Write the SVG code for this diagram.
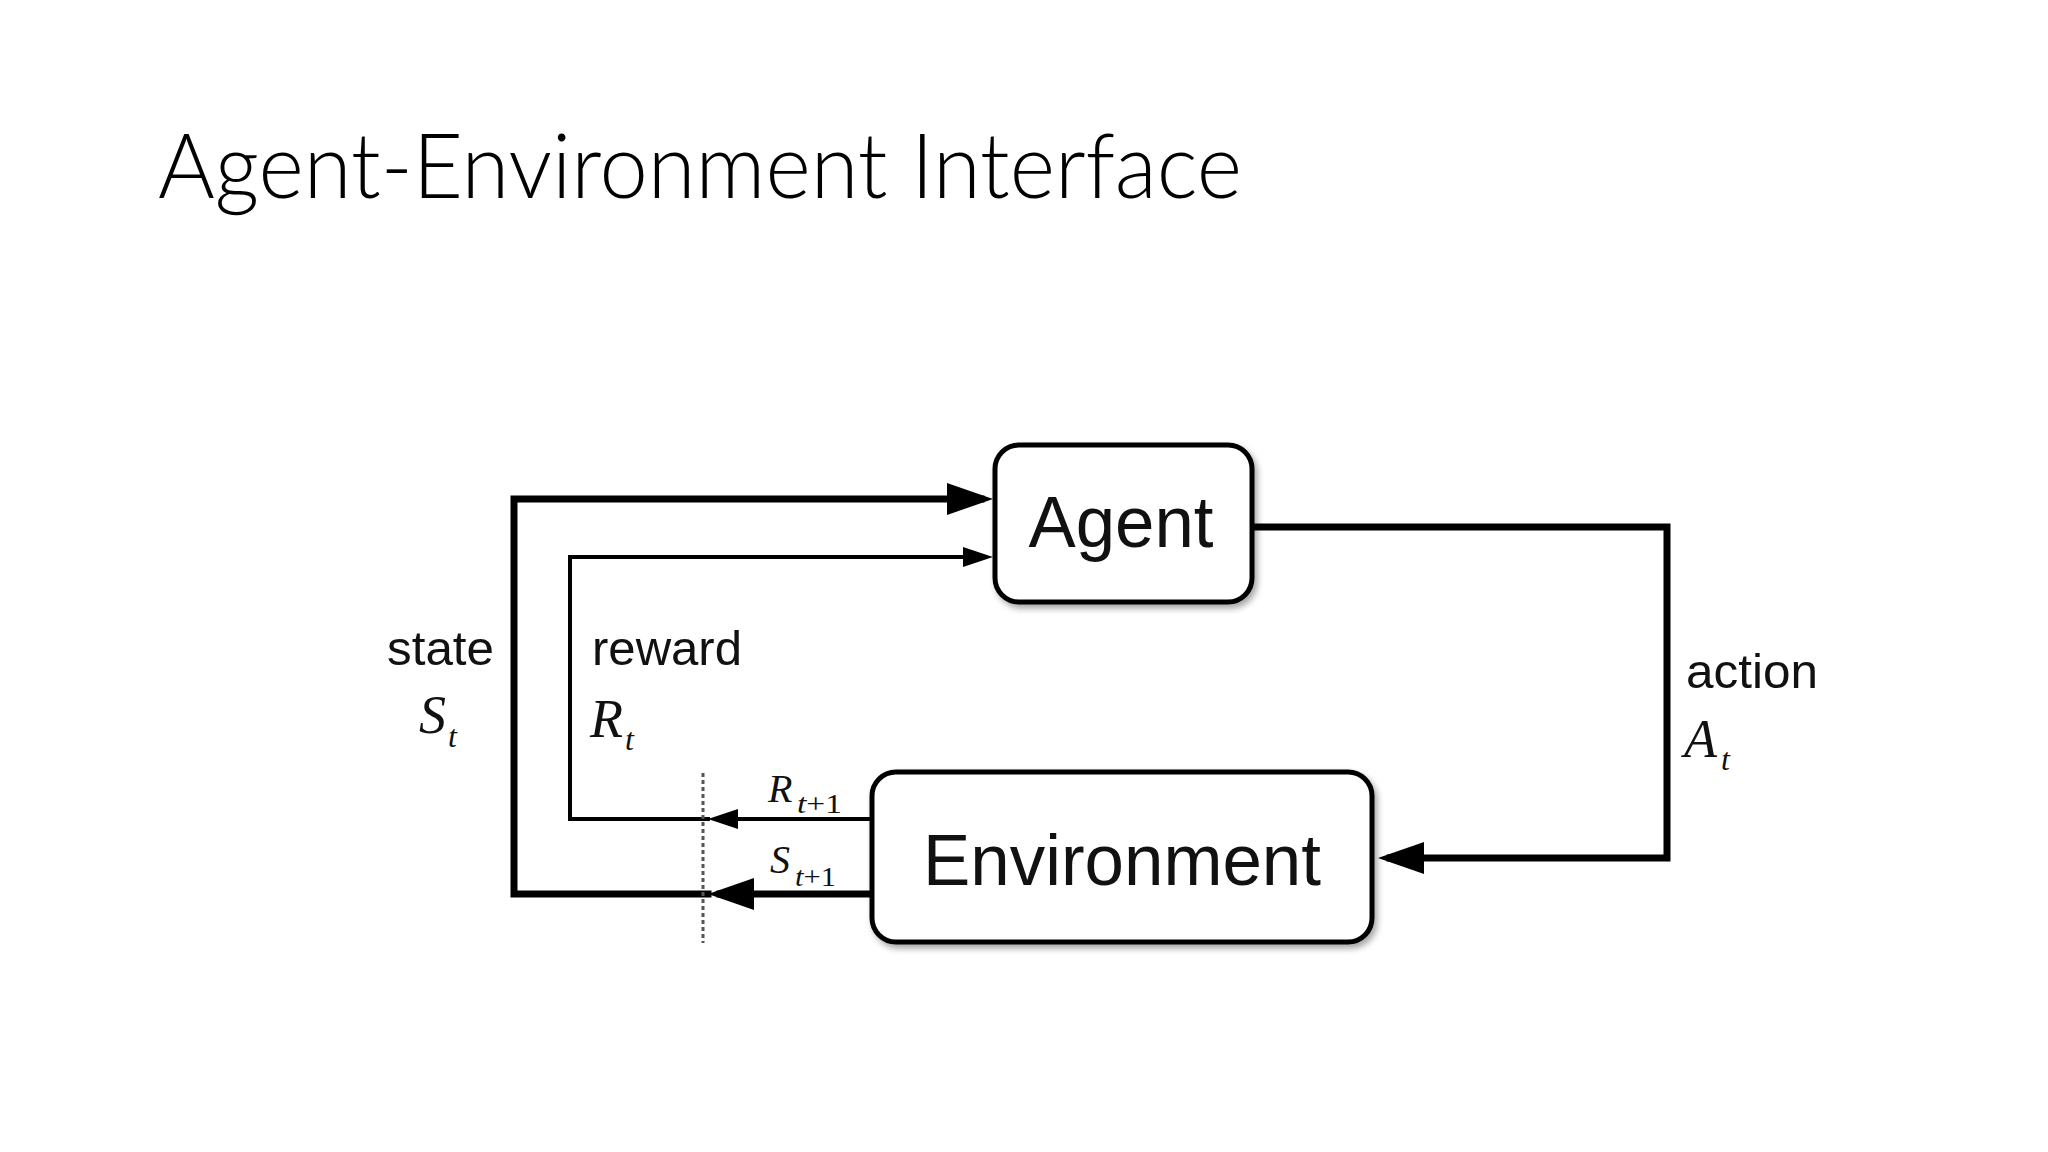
<svg xmlns="http://www.w3.org/2000/svg" width="2048" height="1152" viewBox="0 0 2048 1152">
  <style>
    .title { font-family: Lato, "Open Sans", "Liberation Sans", sans-serif; font-weight: 300; font-size: 90px; fill: #000; }
    .box { fill: #fff; stroke: #000; stroke-width: 5; }
    .boxlabel { font-family: "Liberation Sans", Arial, sans-serif; font-size: 72px; fill: #111; text-anchor: middle; }
    .lbl { font-family: "Liberation Sans", Arial, sans-serif; font-size: 48px; fill: #111; }
    .math { font-family: "Liberation Serif", "Times New Roman", serif; font-style: italic; fill: #111; }
    .up { font-style: normal; }
    .thick { fill: none; stroke: #000; stroke-width: 7; stroke-linejoin: miter; stroke-linecap: square; }
    .thin { fill: none; stroke: #000; stroke-width: 4; stroke-linejoin: miter; stroke-linecap: square; }
    .divider { stroke: #555; stroke-width: 3; stroke-dasharray: 4 3; fill: none; }
  </style>
  <defs>
    <marker id="arrowThick" markerUnits="userSpaceOnUse" markerWidth="46" markerHeight="32" refX="34" refY="16" orient="auto">
      <path d="M0,0 L46,16 L0,32 Z" fill="#000"/>
    </marker>
    <marker id="arrowThin" markerUnits="userSpaceOnUse" markerWidth="30" markerHeight="20" refX="22" refY="10" orient="auto">
      <path d="M0,0 L30,10 L0,20 Z" fill="#000"/>
    </marker>
    <filter id="shadow" x="-10%" y="-10%" width="125%" height="130%">
      <feDropShadow dx="3" dy="4" stdDeviation="3" flood-color="#000" flood-opacity="0.35"/>
    </filter>
  </defs>

  <rect x="0" y="0" width="2048" height="1152" fill="#fff"/>

  <text class="title" x="158" y="198" textLength="1084" lengthAdjust="spacingAndGlyphs">Agent-Environment Interface</text>

  <g id="connectors">
    <!-- state path -->
    <path class="thick" d="M871,894 H720" marker-end="url(#arrowThick)"/>
    <path class="thick" d="M708,894 H514 V499 H981" marker-end="url(#arrowThick)"/>
    <!-- reward path -->
    <path class="thin" d="M871,819 H716" marker-end="url(#arrowThin)"/>
    <path class="thin" d="M708,819 H570 V557 H985" marker-end="url(#arrowThin)"/>
    <!-- action path -->
    <path class="thick" d="M1252,527 H1667 V858 H1390" marker-end="url(#arrowThick)"/>
    <!-- time-step divider -->
    <line class="divider" x1="703" y1="773" x2="703" y2="943"/>
  </g>

  <g id="agent">
    <rect class="box" x="995" y="445" width="257" height="157" rx="24" ry="24" filter="url(#shadow)"/>
    <text class="boxlabel" x="1121" y="547" textLength="185" lengthAdjust="spacingAndGlyphs">Agent</text>
  </g>

  <g id="environment">
    <rect class="box" x="872" y="772" width="500" height="170" rx="24" ry="24" filter="url(#shadow)"/>
    <text class="boxlabel" x="1122" y="885" textLength="398" lengthAdjust="spacingAndGlyphs">Environment</text>
  </g>

  <g id="labels">
    <text class="lbl" x="387" y="665" textLength="107" lengthAdjust="spacingAndGlyphs">state</text>
    <text class="math" x="419" y="733" font-size="54">S</text>
    <text class="math" x="448" y="747" font-size="32">t</text>

    <text class="lbl" x="592" y="665" textLength="150" lengthAdjust="spacingAndGlyphs">reward</text>
    <text class="math" x="590" y="737" font-size="54">R</text>
    <text class="math" x="625" y="750" font-size="32">t</text>

    <text class="lbl" x="1686" y="688" textLength="132" lengthAdjust="spacingAndGlyphs">action</text>
    <text class="math" x="1684" y="757" font-size="54">A</text>
    <text class="math" x="1721" y="770" font-size="32">t</text>

    <text class="math" x="768" y="802" font-size="40">R</text>
    <text class="math" x="797" y="813" font-size="28" textLength="45" lengthAdjust="spacingAndGlyphs">t<tspan class="up">+1</tspan></text>

    <text class="math" x="770" y="873" font-size="40">S</text>
    <text class="math" x="795" y="886" font-size="28" textLength="41" lengthAdjust="spacingAndGlyphs">t<tspan class="up">+1</tspan></text>
  </g>
</svg>
